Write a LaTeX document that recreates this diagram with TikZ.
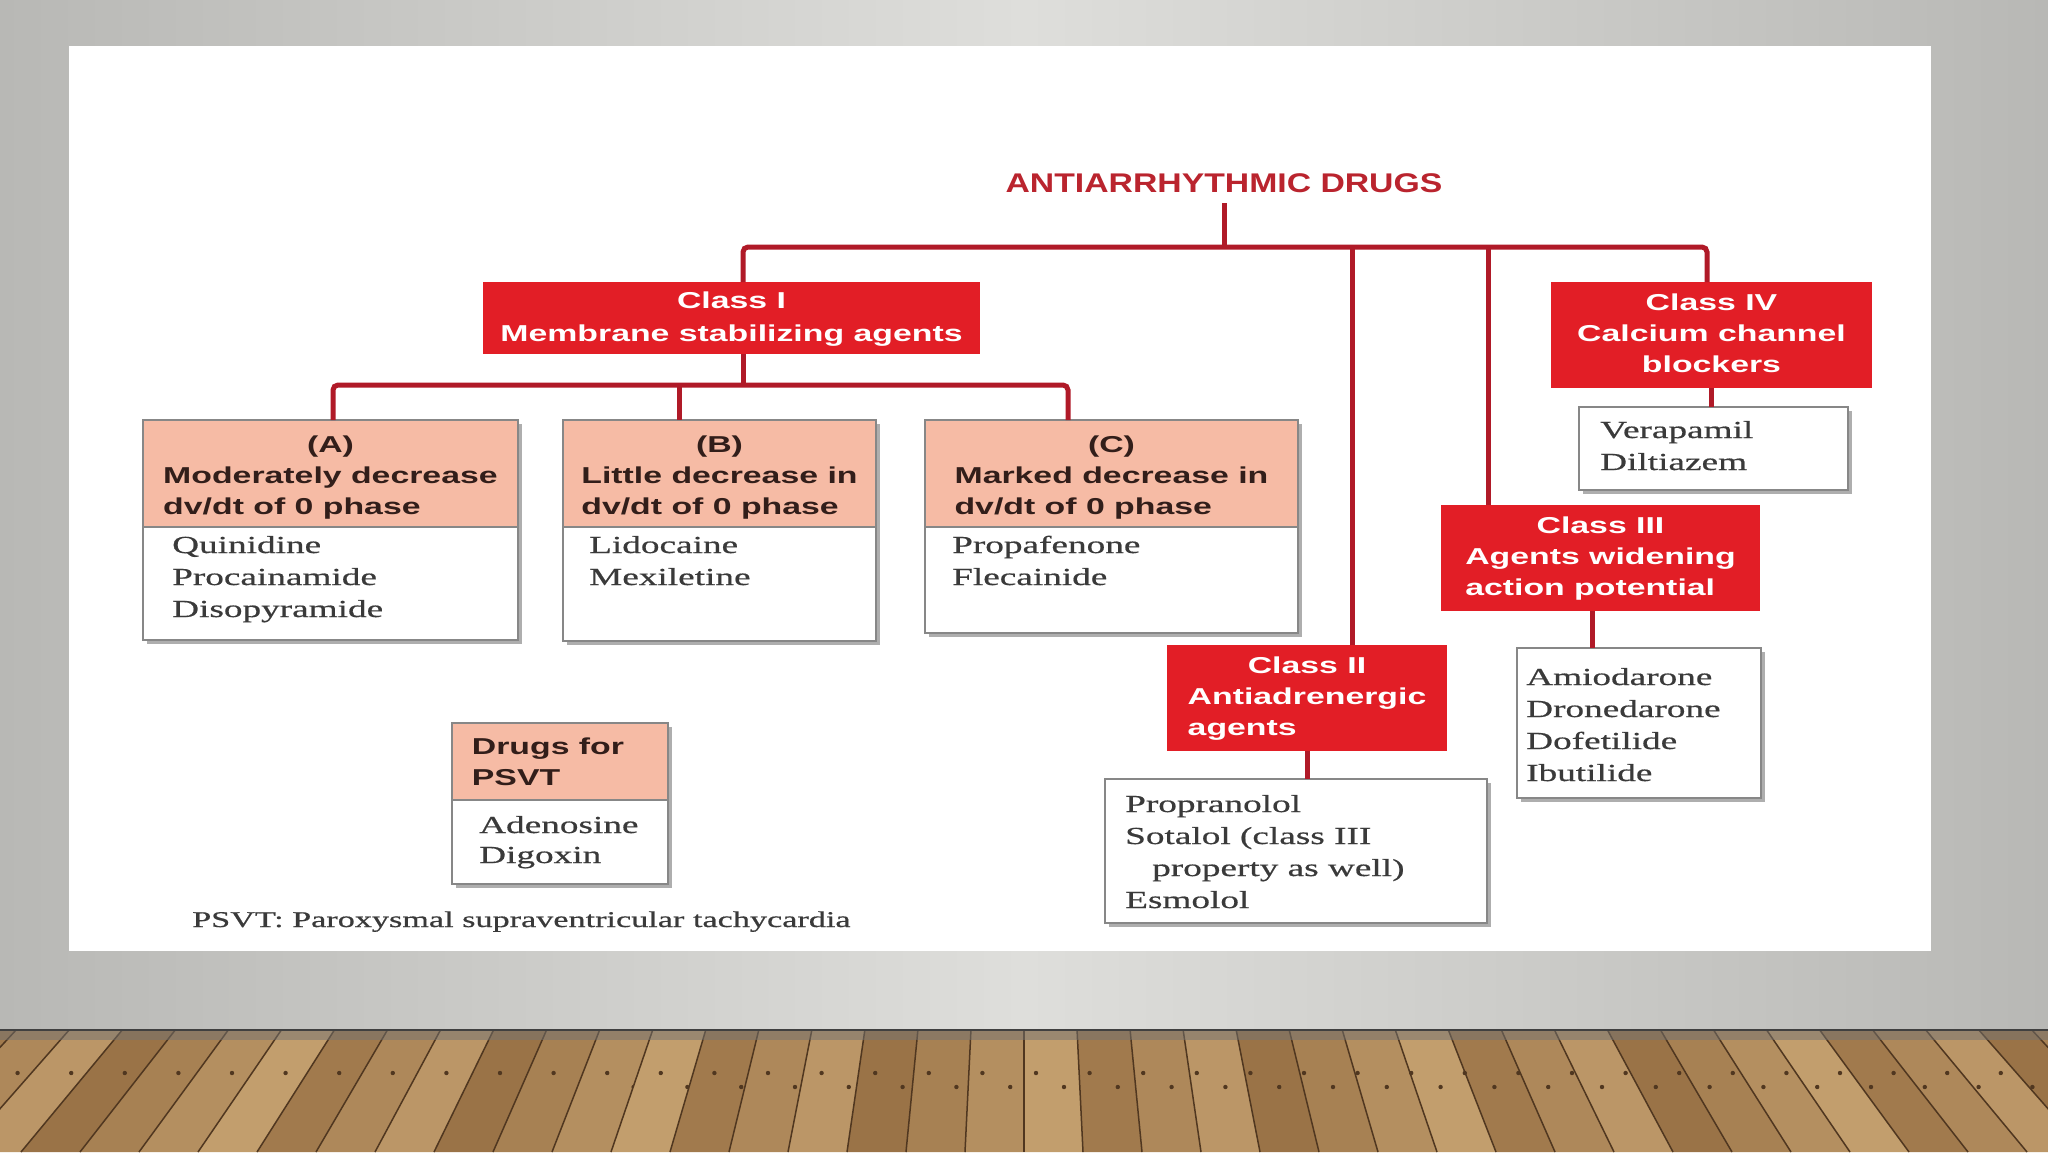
\documentclass[tikz,border=0pt]{standalone}
\usepackage{fontspec}
\setmainfont{Liberation Serif}
\newfontfamily\hdfont[FakeStretch=1.47]{Liberation Sans}
\newfontfamily\ttlfont[FakeStretch=1.25]{Liberation Sans}
\newfontfamily\drfont[FakeStretch=1.52,FakeBold=0.6]{Liberation Serif}
\usetikzlibrary{shadows}
\definecolor{boxred}{RGB}{226,30,38}
\definecolor{linered}{RGB}{176,26,40}
\definecolor{ttlred}{RGB}{186,36,46}
\definecolor{salmon}{RGB}{246,187,165}
\definecolor{hdtext}{RGB}{50,30,26}
\definecolor{drtext}{RGB}{58,58,58}
\definecolor{bord}{RGB}{135,135,135}
\definecolor{bgE}{RGB}{184,184,181}
\definecolor{bgM}{RGB}{222,222,219}
\definecolor{woodL}{RGB}{205,170,120}
\definecolor{woodD}{RGB}{145,105,62}
\definecolor{woodline}{RGB}{80,55,32}
\newcommand{\hdl}[4][0pt]{\begin{tabular}{@{}l@{}}\multicolumn{1}{@{}c@{}}{\rule{0pt}{#1}#2}\\#3\\#4\end{tabular}}
\begin{document}
\begin{tikzpicture}[x=1pt,y=-1pt,
  ln/.style={draw=linered,line width=5pt},
  redbox/.style={fill=boxred,text=white,inner sep=0pt,outer sep=0pt,anchor=north west,
    font=\hdfont\bfseries\fontsize{23}{31}\selectfont},
  hdbox/.style={fill=salmon,draw=bord,line width=1.5pt,text=hdtext,inner sep=0pt,outer sep=0pt,
    anchor=north west,font=\hdfont\bfseries\fontsize{23}{31}\selectfont,
    drop shadow={shadow xshift=4pt,shadow yshift=-4pt,fill=black!45,opacity=0.7}},
  bodybox/.style={fill=white,draw=bord,line width=1.5pt,inner sep=0pt,outer sep=0pt,anchor=north west,
    drop shadow={shadow xshift=4pt,shadow yshift=-4pt,fill=black!45,opacity=0.7}},
  drug/.style={anchor=base west,inner sep=0pt,text=drtext,font=\drfont\fontsize{24.5}{32}\selectfont}]
\useasboundingbox (0,0) rectangle (2048,1152);
% background wall and card
\shade[left color=bgE,right color=bgE,middle color=bgM] (0,0) rectangle (2048,1030);
\fill[white] (69,46) rectangle (1931,951);
% wooden floor
\begin{scope}
\clip (0,1029) rectangle (2048,1152);
\fill[woodD] (0,1029) rectangle (2048,1152);
\foreach \i in {-22,...,21}{
  \pgfmathsetmacro\p{int(mod(\i*37+1000,7))*11+15}
  \fill[fill={woodL!\p!woodD}] (1024+\i*53,1029) -- (1077+\i*53,1029) -- (1083+\i*59,1152) -- (1024+\i*59,1152) -- cycle;
  \draw[woodline,line width=1.5pt] (1024+\i*53,1029) -- (1024+\i*59,1152);
  \fill[woodline] (1036+\i*53.6,1073) circle (2.2pt);
  \fill[woodline] (1064+\i*53.8,1087) circle (2.2pt);
}
\fill[black!55,opacity=0.5] (0,1029) rectangle (2048,1040);
\fill[black!75] (0,1028) rectangle (2048,1031);
\end{scope}
% title
\node[anchor=base,inner sep=0pt,outer sep=0pt,text=ttlred,font=\ttlfont\bfseries\fontsize{27}{32}\selectfont]
  (title) at (1224,192) {ANTIARRHYTHMIC DRUGS};
\coordinate (bus) at (1224,247);
\coordinate (sub) at (743,385);
% class boxes
\node[redbox,minimum width=497pt,minimum height=72pt,font=\hdfont\bfseries\fontsize{23}{33}\selectfont]
  (cls1) at (483,282) {\begin{tabular}{@{}c@{}}Class I\\Membrane stabilizing agents\end{tabular}};
\node[redbox,minimum width=280pt,minimum height=106pt] (cls2) at (1167,645) {\hdl{Class II}{Antiadrenergic}{agents}};
\node[redbox,minimum width=319pt,minimum height=106pt] (cls3) at (1441,505) {\hdl{Class III}{Agents widening}{action potential}};
\node[redbox,minimum width=321pt,minimum height=106pt] (cls4) at (1551,282) {\begin{tabular}{@{}c@{}}Class IV\\Calcium channel\\blockers\end{tabular}};
% subclass headers
\node[hdbox,minimum width=375pt,minimum height=107pt] (hA) at (143,420) {\hdl[29.5pt]{(A)}{Moderately decrease}{dv/dt of 0 phase}};
\node[bodybox,minimum width=375pt,minimum height=113pt] (bA) at (143,527) {};
\node[hdbox,minimum width=313pt,minimum height=107pt] (hB) at (563,420) {\hdl[29.5pt]{(B)}{Little decrease in}{dv/dt of 0 phase}};
\node[bodybox,minimum width=313pt,minimum height=114pt] (bB) at (563,527) {};
\node[hdbox,minimum width=373pt,minimum height=107pt] (hC) at (925,420) {\hdl[29.5pt]{(C)}{Marked decrease in}{dv/dt of 0 phase}};
\node[bodybox,minimum width=373pt,minimum height=106pt] (bC) at (925,527) {};
% drug boxes
\node[bodybox,minimum width=269pt,minimum height=83pt] (b4) at (1579,407) {};
\node[bodybox,minimum width=244pt,minimum height=150pt] (b3) at (1517,648) {};
\node[bodybox,minimum width=382pt,minimum height=144pt] (b2) at (1105,779) {};
% PSVT
\node[hdbox,minimum width=216pt,minimum height=77pt] (hP) at (452,723)
  {\begin{tabular}{@{}l@{\hspace{24pt}}}\rule{0pt}{27pt}Drugs for\\PSVT\end{tabular}};
\node[bodybox,minimum width=216pt,minimum height=84pt] (bP) at (452,800) {};
% drug texts
\node[drug] (tA) at (172,553) {\begin{tabular}[t]{@{}l@{}}Quinidine\\Procainamide\\Disopyramide\end{tabular}};
\node[drug] (tB) at (589,553) {\begin{tabular}[t]{@{}l@{}}Lidocaine\\Mexiletine\end{tabular}};
\node[drug] (tC) at (952,553) {\begin{tabular}[t]{@{}l@{}}Propafenone\\Flecainide\end{tabular}};
\node[drug] (t4) at (1600,438) {\begin{tabular}[t]{@{}l@{}}Verapamil\\Diltiazem\end{tabular}};
\node[drug] (t3) at (1526,685) {\begin{tabular}[t]{@{}l@{}}Amiodarone\\Dronedarone\\Dofetilide\\Ibutilide\end{tabular}};
\node[drug] (t2) at (1125,812) {\begin{tabular}[t]{@{}l@{}}Propranolol\\Sotalol (class III\\\hspace*{27pt}property as well)\\Esmolol\end{tabular}};
\node[drug,font=\drfont\fontsize{24.5}{30}\selectfont] (tP) at (479,833) {\begin{tabular}[t]{@{}l@{}}Adenosine\\Digoxin\end{tabular}};
\node[drug,font=\drfont\fontsize{22.5}{28}\selectfont] (fn) at (192,927) {PSVT: Paroxysmal supraventricular tachycardia};
% connectors
\draw[ln] ([yshift=-11pt]title.south) -- (bus);
\draw[ln,rounded corners=5pt] ([xshift=11.5pt]cls1.north) |- (bus) -| ([xshift=-4.5pt]cls4.north);
\draw[ln] ([xshift=45pt]cls2.north) -- ([xshift=45pt]cls2.north |- bus);
\draw[ln] ([xshift=-112.5pt]cls3.north) -- ([xshift=-112.5pt]cls3.north |- bus);
\draw[ln] ([xshift=11.5pt]cls1.south) -- ([xshift=11.5pt]cls1.south |- sub);
\draw[ln,rounded corners=5pt] ([xshift=2.5pt]hA.north) |- (sub) -| ([xshift=-43.5pt]hC.north);
\draw[ln] ([xshift=-40.5pt]hB.north) -- ([xshift=-40.5pt]hB.north |- sub);
\draw[ln] (cls2.south) -- (cls2.south |- b2.north);
\draw[ln] ([xshift=-8.5pt]cls3.south) -- ([xshift=-8.5pt]cls3.south |- b3.north);
\draw[ln] (cls4.south) -- (cls4.south |- b4.north);
\end{tikzpicture}
\end{document}
